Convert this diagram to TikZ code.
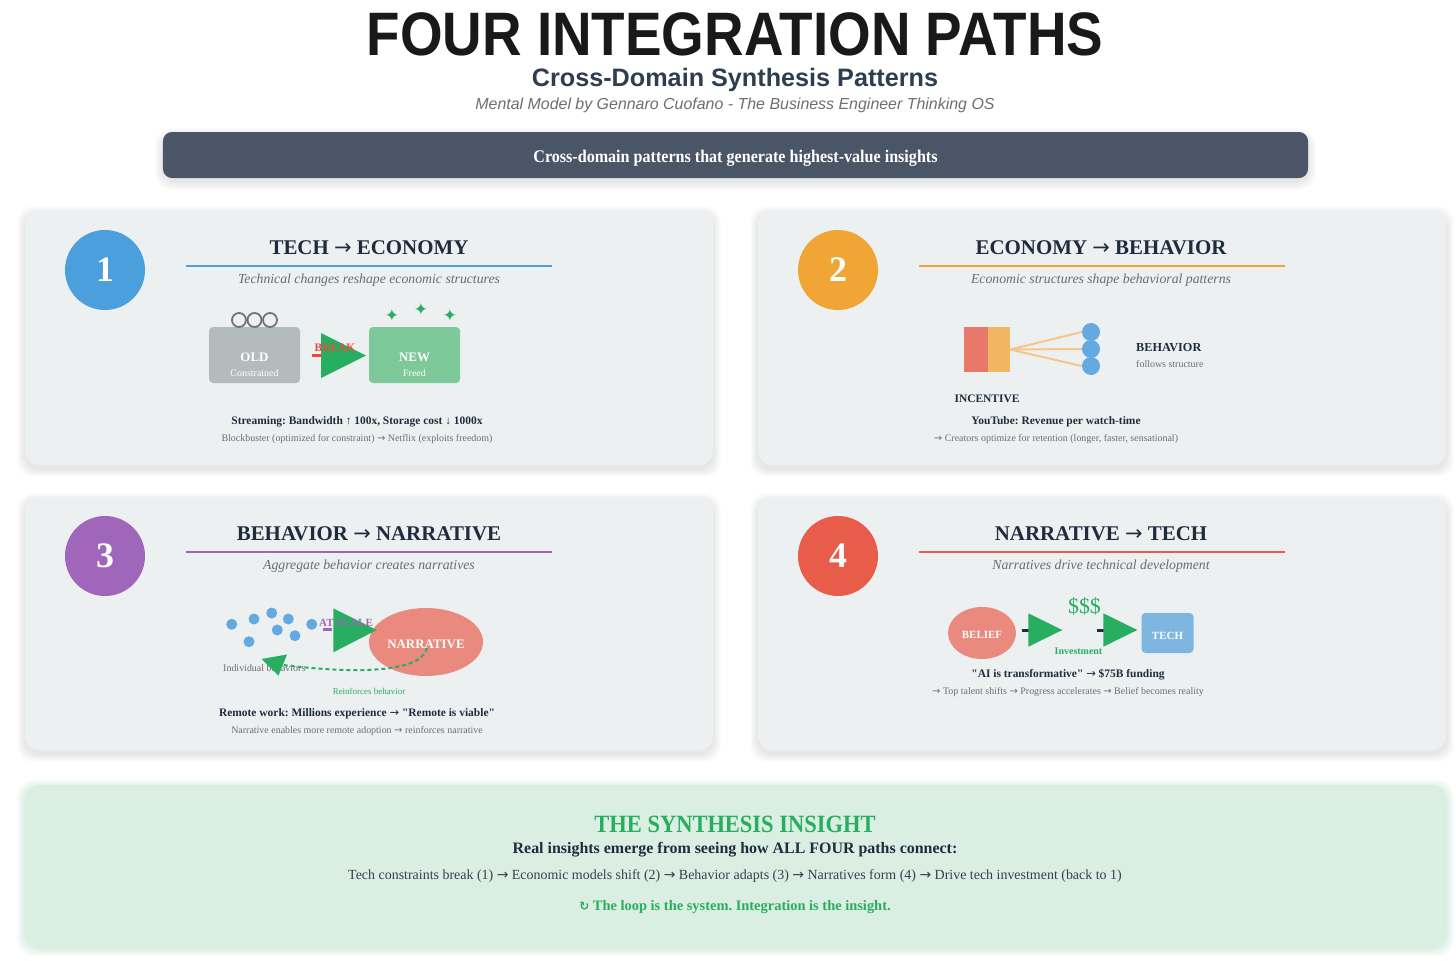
\documentclass[tikz,border=0pt]{standalone}
\usepackage{fontspec}
\setmainfont{Liberation Serif}
\newfontfamily\hsans{Liberation Sans}
\newfontfamily\symf{DejaVu Sans}
\usetikzlibrary{shapes.geometric}
\frenchspacing
\newcommand\fs[1]{\fontsize{#1}{#1}\selectfont}
\newcommand\ar{{\symf\mdseries →}}
\newcommand\softshadow[4]{%
  \foreach \k in {1,...,8}{\fill[black,opacity=0.013,rounded corners=16bp] ({#1-\k},{#2-\k+4}) rectangle ({#3+\k},{#4+\k+4});}}
\definecolor{navy}{HTML}{1F2B3E}
\definecolor{slate}{HTML}{2C3E50}
\definecolor{gtxt}{HTML}{6E6E6E}
\definecolor{gsub}{HTML}{666E70}
\definecolor{panelbg}{HTML}{ECF0F1}
\definecolor{cA}{HTML}{4A9FDC}
\definecolor{cB}{HTML}{F0A535}
\definecolor{cC}{HTML}{A066BA}
\definecolor{cD}{HTML}{E85C4A}
\definecolor{gre}{HTML}{27AE60}
\definecolor{oldc}{HTML}{B3BBBC}
\definecolor{newc}{HTML}{7DC99A}
\definecolor{brk}{HTML}{E74C3C}
\definecolor{incr}{HTML}{E8786A}
\definecolor{inco}{HTML}{F2B562}
\definecolor{lino}{HTML}{F5C68A}
\definecolor{bdot}{HTML}{64A9DF}
\definecolor{salm}{HTML}{EA8A7E}
\definecolor{techc}{HTML}{7EB6E2}
\definecolor{bann}{HTML}{4A5568}
\definecolor{botbg}{HTML}{DAEEE1}
\begin{document}
\begin{tikzpicture}[x=1bp,y=-1bp,
  txt/.style={inner sep=0pt,yshift=-1.5bp},
  panel/.style={rectangle,rounded corners=14bp,fill=panelbg,minimum width=688bp,minimum height=255bp,inner sep=0pt},
  numc/.style={circle,minimum size=80bp,inner sep=0pt,text=white,font=\bfseries\fs{36}},
  ptitle/.style={txt,font=\bfseries\fs{21},text=navy},
  psub/.style={txt,font=\itshape\fs{13.8},text=gsub},
  boldline/.style={txt,font=\bfseries\fs{11.5},text=navy},
  grayline/.style={txt,font=\fs{10},text=gtxt},
  wlab/.style={txt,text=white,align=center},
  dot/.style={circle,fill=bdot,minimum size=11bp,inner sep=0pt},
  bdotc/.style={circle,fill=bdot,minimum size=18bp,inner sep=0pt}]
\useasboundingbox (0,0) rectangle (1456,960);
\fill[white] (0,0) rectangle (1456,960);

% header
\node[font=\hsans\bfseries\fs{55},text=black!90,inner sep=0pt] (title) at (735,34.5) {\scalebox{1}[1.12]{FOUR INTEGRATION PATHS}};
\node[txt,font=\hsans\bfseries\fs{25.3},text=slate] (sub) at (735,78) {Cross-Domain Synthesis Patterns};
\node[txt,font=\hsans\itshape\fs{16},text=gtxt] (auth) at (735,104) {Mental Model by Gennaro Cuofano - The Business Engineer Thinking OS};

% banner
\softshadow{163}{132}{1308}{178}
\node[rectangle,rounded corners=9bp,fill=bann,minimum width=1145bp,minimum height=46bp,inner sep=0pt] (banner) at (735.5,155) {};
\node[txt,text=white,font=\bfseries\fs{17}] (bannert) at (735.5,157) {\scalebox{0.95}[1.05]{Cross-domain patterns that generate highest-value insights}};

% panels
\softshadow{25}{210}{713}{465}
\softshadow{758}{210}{1446}{465}
\softshadow{25}{497}{713}{750}
\softshadow{758}{497}{1446}{750}
\node[panel] (p1) at (369,337.5) {};
\node[panel] (p2) at (1102,337.5) {};
\node[panel,minimum height=253bp] (p3) at (369,623.5) {};
\node[panel,minimum height=253bp] (p4) at (1102,623.5) {};

% ---------- panel 1
\node[numc,fill=cA] (n1) at (105,270) {1};
\node[ptitle] (t1) at (369,246) {TECH \ar{} ECONOMY};
\draw[cA,line width=2bp] (186,266) -- (552,266);
\node[psub] (s1) at (369,279) {Technical changes reshape economic structures};
\node[rectangle,rounded corners=4bp,fill=oldc,minimum width=91bp,minimum height=56bp,inner sep=0pt] (old) at (254.5,355) {};
\node[wlab,font=\bfseries\fs{13}] (oldt) at (254.5,356) {OLD};
\node[wlab,font=\fs{10}] (olds) at (254.5,372) {Constrained};
\foreach \cx/\nm in {239/ca,254.5/cb,270/cc}{\node[circle,draw=black!55,line width=1.8bp,minimum size=14bp,inner sep=0pt] (\nm) at (\cx,320) {};}
\node[rectangle,rounded corners=4bp,fill=newc,minimum width=91bp,minimum height=56bp,inner sep=0pt] (new) at (414.5,355) {};
\node[wlab,font=\bfseries\fs{13}] (newt) at (414.5,356) {NEW};
\node[wlab,font=\fs{10}] (news) at (414.5,372) {Freed};
\foreach \sx/\sy/\nm in {392/315/sa,421/309/sb,450/315/sc}{\node[font=\symf\fs{17},text=gre,inner sep=0pt] (\nm) at (\sx,\sy) {✦};}
\fill[gre] (321,333) -- (321,378) -- (366,355.5) -- cycle;
\draw[brk,line width=3bp] (312,355) -- (322,355);
\node[txt,font=\bfseries\fs{11.5},text=brk] (break) at (335,346) {BREAK};
\node[boldline] (e1) at (357,420) {Streaming: Bandwidth ↑ 100x, Storage cost ↓ 1000x};
\node[grayline] (g1) at (357,438) {Blockbuster (optimized for constraint) \ar{} Netflix (exploits freedom)};

% ---------- panel 2
\node[numc,fill=cB] (n2) at (838,270) {2};
\node[ptitle] (t2) at (1101,246) {ECONOMY \ar{} BEHAVIOR};
\draw[cB,line width=2bp] (919,266) -- (1285,266);
\node[psub] (s2) at (1101,279) {Economic structures shape behavioral patterns};
\fill[incr] (964,327) rectangle (987.5,372);
\fill[inco] (987.5,327) rectangle (1010,372);
\coordinate (incE) at (1010,349.5);
\node[bdotc] (b1) at (1091,332) {};
\node[bdotc] (b2) at (1091,349) {};
\node[bdotc] (b3) at (1091,366) {};
\foreach \b in {b1,b2,b3}{\draw[lino,line width=2bp] (incE) -- (\b.west);}
\node[txt,font=\bfseries\fs{12.3},text=navy,anchor=west] (beh) at (1136,346) {BEHAVIOR};
\node[txt,font=\fs{10},text=gtxt,anchor=west] (fol) at (1136,363) {follows structure};
\node[txt,font=\bfseries\fs{11.5},text=navy] (inc) at (987,397.5) {INCENTIVE};
\node[boldline] (e2) at (1056,420) {YouTube: Revenue per watch-time};
\node[grayline] (g2) at (1056,438) {\ar{} Creators optimize for retention (longer, faster, sensational)};

% ---------- panel 3
\node[numc,fill=cC] (n3) at (105,556) {3};
\node[ptitle] (t3) at (369,532) {BEHAVIOR \ar{} NARRATIVE};
\draw[cC,line width=2bp] (186,552) -- (552,552);
\node[psub] (s3) at (369,565) {Aggregate behavior creates narratives};
\foreach \dx/\dy/\nm in {231.7/624.3/d1,254/619/d2,271.7/613/d3,288.3/619/d4,277.3/630/d5,295/635.7/d6,311.7/624.3/d7,249/641.7/d8}{\node[dot] (\nm) at (\dx,\dy) {};}
\node[ellipse,fill=salm,minimum width=114bp,minimum height=68bp,inner sep=0pt] (narr) at (426,642) {};
\node[wlab,font=\bfseries\fs{13}] (narrt) at (426,643) {NARRATIVE};
\node[txt,font=\fs{10},text=gtxt,anchor=west] (indiv) at (223,667) {Individual behaviors};
\fill[gre] (333.3,608.3) -- (333.3,652.3) -- (376.7,630) -- cycle;
\draw[cC,line width=3bp] (323,629) -- (332,629);
\node[txt,font=\bfseries\fs{11},text=cC] (scale) at (346,621) {AT SCALE};
\coordinate (ret) at (283,665);
\coordinate (nstart) at (427,648);
\draw[gre,line width=2bp,dash pattern=on 4bp off 3bp] (nstart) .. controls (420,676) and (340,672) .. (ret);
\fill[gre] (287,654.5) -- (261.5,659) -- (278.5,675.5) -- cycle;
\node[txt,font=\fs{9},text=gre] (rein) at (369,690) {Reinforces behavior};
\node[boldline] (e3) at (357,712) {Remote work: Millions experience \ar{} \textquotedbl Remote is viable\textquotedbl};
\node[grayline] (g3) at (357,730) {Narrative enables more remote adoption \ar{} reinforces narrative};

% ---------- panel 4
\node[numc,fill=cD] (n4) at (838,556) {4};
\node[ptitle] (t4) at (1101,532) {NARRATIVE \ar{} TECH};
\draw[cD,line width=2bp] (919,552) -- (1285,552);
\node[psub] (s4) at (1101,565) {Narratives drive technical development};
\node[ellipse,fill=salm,minimum width=68bp,minimum height=52bp,inner sep=0pt] (belief) at (982,633) {};
\node[wlab,font=\bfseries\fs{11}] (belt) at (982,633) {BELIEF};
\node[rectangle,rounded corners=4bp,fill=techc,minimum width=52bp,minimum height=40bp,inner sep=0pt] (tech) at (1167.5,633) {};
\node[wlab,font=\bfseries\fs{11}] (techt) at (1167.5,634) {TECH};
\draw[navy,line width=3bp] (1021.7,630) -- (1028.5,630);
\fill[gre] (1028.3,613.3) -- (1028.3,646.7) -- (1062.3,630) -- cycle;
\draw[navy,line width=3bp] (1096.7,630) -- (1103.5,630);
\fill[gre] (1103.3,613.3) -- (1103.3,646.7) -- (1137.3,630) -- cycle;
\node[txt,font=\fs{22},text=gre] (dol) at (1084.5,605) {\$\$\$};
\node[txt,font=\bfseries\fs{10},text=gre] (inv) at (1078.5,650) {Investment};
\node[boldline] (e4) at (1068,673) {\textquotedbl AI is transformative\textquotedbl{} \ar{} \$75B funding};
\node[grayline] (g4) at (1068,690.5) {\ar{} Top talent shifts \ar{} Progress accelerates \ar{} Belief becomes reality};

% ---------- bottom
\foreach \k in {1,...,8}{\fill[gre,opacity=0.02,rounded corners=16bp] ({25-\k},{785-\k+3}) rectangle ({1446+\k},{945+\k+3});}
\node[rectangle,rounded corners=14bp,fill=botbg,minimum width=1421bp,minimum height=160bp,inner sep=0pt] (bot) at (735.5,865) {};
\node[txt,font=\bfseries\fs{23.5},text=gre] (syn) at (735,823) {\scalebox{0.96}[1.06]{THE SYNTHESIS INSIGHT}};
\node[txt,font=\bfseries\fs{16},text=navy] (real) at (735,848) {Real insights emerge from seeing how ALL FOUR paths connect:};
\node[txt,font=\fs{14},text=navy!90] (chain) at (735,875) {Tech constraints break (1) \ar{} Economic models shift (2) \ar{} Behavior adapts (3) \ar{} Narratives form (4) \ar{} Drive tech investment (back to 1)};
\node[txt,font=\bfseries\fs{14.5},text=gre] (loop) at (735,906) {{\symf\fs{12}↻} The loop is the system. Integration is the insight.};
\end{tikzpicture}
\end{document}
